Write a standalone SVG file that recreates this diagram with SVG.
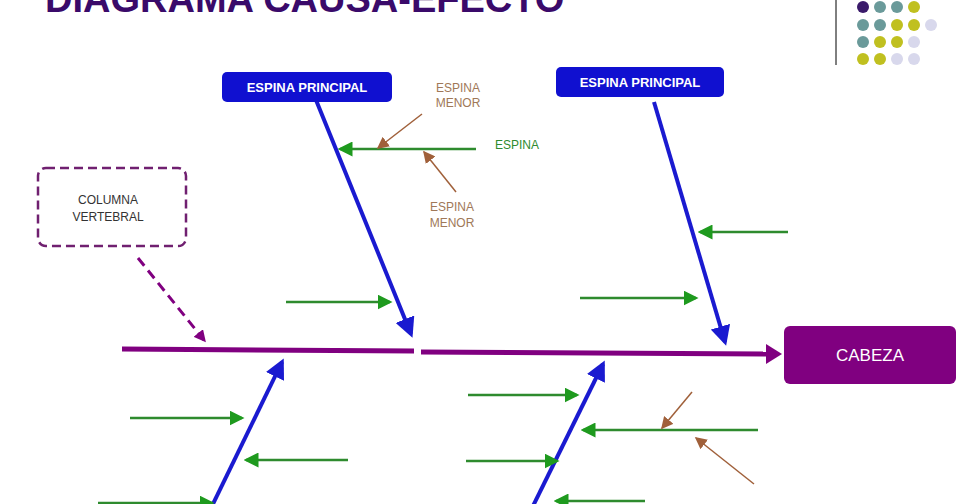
<svg xmlns="http://www.w3.org/2000/svg" width="960" height="504" viewBox="0 0 960 504">
<style>
.t{font-family:"Liberation Sans",Arial,sans-serif}
.blue{stroke:#1a1ad0;stroke-width:4;fill:none}
.grn{stroke:#2e8b2e;stroke-width:2.5;fill:none}
.brn{stroke:#a0603a;stroke-width:1.5;fill:none}
.sm{font-size:12px}
</style>
<defs>
<marker id="ab" markerWidth="5" markerHeight="5" refX="4" refY="2.5" orient="auto"><path d="M0,0L5,2.5L0,5z" fill="#1a1ad0"/></marker>
<marker id="ag" markerWidth="6" markerHeight="6" refX="5" refY="3" orient="auto"><path d="M0,0L6,3L0,6z" fill="#1e9a1e"/></marker>
<marker id="ar" markerWidth="8" markerHeight="8" refX="7" refY="4" orient="auto"><path d="M0,0L8,4L0,8z" fill="#a0603a"/></marker>
<marker id="ap" markerWidth="4" markerHeight="4" refX="3" refY="2" orient="auto"><path d="M0,0L4,2L0,4z" fill="#800080"/></marker>
</defs>
<rect width="960" height="504" fill="#fff"/>
<text class="t" x="45" y="12" font-size="38" font-weight="bold" fill="#3a0a6a">DIAGRAMA CAUSA-EFECTO</text>
<line x1="836" y1="0" x2="836" y2="65" stroke="#000" stroke-width="1"/>
<g>
<circle cx="863" cy="7" r="6" fill="#3a1a6a"/><circle cx="880" cy="7" r="6" fill="#6a9a9a"/><circle cx="897" cy="7" r="6" fill="#6a9a9a"/><circle cx="914" cy="7" r="6" fill="#c0c020"/>
<circle cx="863" cy="25" r="6" fill="#6a9a9a"/><circle cx="880" cy="25" r="6" fill="#6a9a9a"/><circle cx="897" cy="25" r="6" fill="#c0c020"/><circle cx="914" cy="25" r="6" fill="#c0c020"/><circle cx="931" cy="25" r="6" fill="#d8d8ec"/>
<circle cx="863" cy="42" r="6" fill="#6a9a9a"/><circle cx="880" cy="42" r="6" fill="#c0c020"/><circle cx="897" cy="42" r="6" fill="#c0c020"/><circle cx="914" cy="42" r="6" fill="#d8d8ec"/>
<circle cx="863" cy="59" r="6" fill="#c0c020"/><circle cx="880" cy="59" r="6" fill="#c0c020"/><circle cx="897" cy="59" r="6" fill="#d8d8ec"/><circle cx="914" cy="59" r="6" fill="#d8d8ec"/>
</g>
<g id="connectors">
<line x1="122" y1="349" x2="414" y2="351" stroke="#800080" stroke-width="5"/>
<line x1="421" y1="352" x2="768" y2="354" stroke="#800080" stroke-width="5"/>
<path d="M766,344L782,354L766,364z" fill="#800080"/>
<line x1="316" y1="100" x2="411" y2="334" class="blue" marker-end="url(#ab)"/>
<line x1="654" y1="102" x2="725" y2="342" class="blue" marker-end="url(#ab)"/>
<line x1="212" y1="506" x2="282" y2="362" class="blue" marker-end="url(#ab)"/>
<line x1="533" y1="506" x2="603" y2="364" class="blue" marker-end="url(#ab)"/>
<line x1="476" y1="149" x2="340" y2="149" class="grn" marker-end="url(#ag)"/>
<line x1="286" y1="302" x2="390" y2="302" class="grn" marker-end="url(#ag)"/>
<line x1="788" y1="232" x2="700" y2="232" class="grn" marker-end="url(#ag)"/>
<line x1="580" y1="298" x2="696" y2="298" class="grn" marker-end="url(#ag)"/>
<line x1="130" y1="418" x2="242" y2="418" class="grn" marker-end="url(#ag)"/>
<line x1="348" y1="460" x2="246" y2="460" class="grn" marker-end="url(#ag)"/>
<line x1="98" y1="503" x2="212" y2="503" class="grn" marker-end="url(#ag)"/>
<line x1="468" y1="395" x2="577" y2="395" class="grn" marker-end="url(#ag)"/>
<line x1="758" y1="430" x2="583" y2="430" class="grn" marker-end="url(#ag)"/>
<line x1="466" y1="461" x2="557" y2="461" class="grn" marker-end="url(#ag)"/>
<line x1="645" y1="501" x2="556" y2="501" class="grn" marker-end="url(#ag)"/>
<line x1="422" y1="114" x2="378" y2="148" class="brn" marker-end="url(#ar)"/>
<line x1="456" y1="192" x2="424" y2="152" class="brn" marker-end="url(#ar)"/>
<line x1="692" y1="392" x2="662" y2="428" class="brn" marker-end="url(#ar)"/>
<line x1="754" y1="484" x2="696" y2="438" class="brn" marker-end="url(#ar)"/>
<line x1="138" y1="258" x2="204" y2="340" stroke="#800080" stroke-width="3" stroke-dasharray="10,6" marker-end="url(#ap)"/>
</g>
<g id="head"><rect x="784" y="326" width="172" height="58" rx="6" fill="#800080"/><text class="t" x="870" y="361" font-size="17" fill="#fff" text-anchor="middle">CABEZA</text></g>
<g id="ep1"><rect x="222" y="72" width="170" height="30" rx="5" fill="#1010d0"/><text class="t" x="307" y="92" font-size="13" font-weight="bold" fill="#fff" text-anchor="middle">ESPINA PRINCIPAL</text></g>
<g id="ep2"><rect x="556" y="67" width="168" height="30" rx="5" fill="#1010d0"/><text class="t" x="640" y="87" font-size="13" font-weight="bold" fill="#fff" text-anchor="middle">ESPINA PRINCIPAL</text></g>
<g id="col"><rect x="38" y="168" width="148" height="78" rx="8" fill="none" stroke="#702070" stroke-width="2.5" stroke-dasharray="9,5"/><text class="t sm" x="108" y="204" fill="#333" text-anchor="middle">COLUMNA</text><text class="t sm" x="108" y="221" fill="#333" text-anchor="middle">VERTEBRAL</text></g>
<g id="lbl1"><text class="t sm" x="458" y="92" fill="#a07858" text-anchor="middle">ESPINA</text><text class="t sm" x="458" y="107" fill="#a07858" text-anchor="middle">MENOR</text></g>
<g id="lbl2"><text class="t sm" x="517" y="149" fill="#2e8b2e" text-anchor="middle">ESPINA</text></g>
<g id="lbl3"><text class="t sm" x="452" y="211" fill="#a07858" text-anchor="middle">ESPINA</text><text class="t sm" x="452" y="227" fill="#a07858" text-anchor="middle">MENOR</text></g>
</svg>
